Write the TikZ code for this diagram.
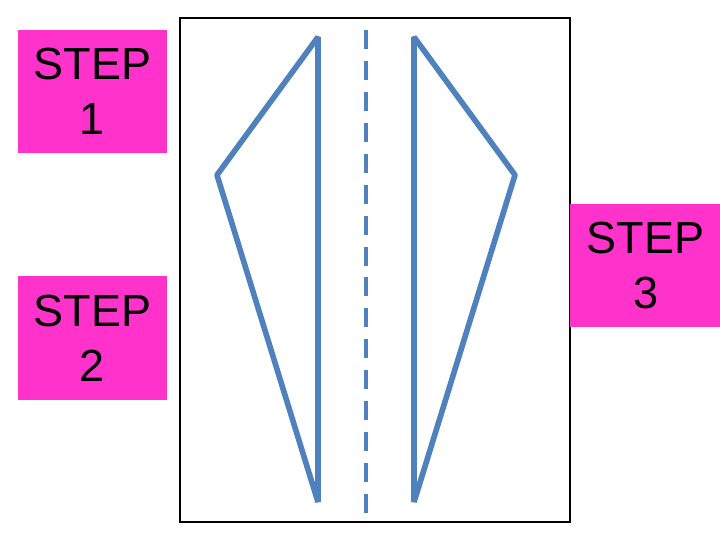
\documentclass[tikz,border=0pt]{standalone}
\usepackage{fontspec}
\setmainfont{Liberation Sans}
\definecolor{kiteblue}{HTML}{4F81BD}
\definecolor{steppink}{HTML}{FF33CC}
\begin{document}
\begin{tikzpicture}[x=0.025cm,y=-0.025cm,
	stepbox/.style={fill=steppink,inner sep=0pt,align=center,
		minimum width=3.725cm,minimum height=3.075cm,
		font=\fontsize{32}{39}\selectfont},
	kite/.style={kiteblue,line width=4pt,line join=bevel}]
	\useasboundingbox (0,0) rectangle (720,540);

	\draw[line width=1.6pt] (180,18) rectangle (570,522);

	\draw[kite] (318,37) -- (217,175) -- (318,502) -- cycle;
	\draw[kite] (414,37) -- (515,175) -- (414,502) -- cycle;
	\draw[kiteblue,line width=3.3pt,dash pattern=on 13.5pt off 8.5pt] (366,30) -- (366,515);

	\node[stepbox] (step1) at (92.5,91.5) {STEP\\1};
	\node[stepbox] (step2) at (92.5,338) {STEP\\2};
	\node[stepbox,minimum width=3.75cm] (step3) at (645.5,265.5) {STEP\\3};

\end{tikzpicture}
\end{document}
